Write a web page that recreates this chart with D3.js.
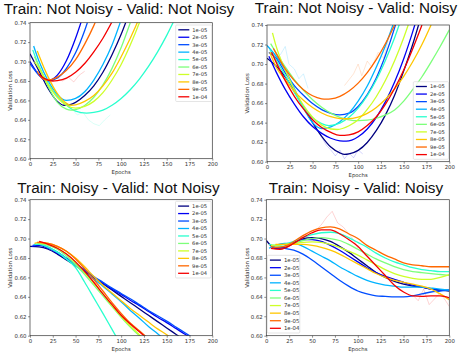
<!DOCTYPE html>
<html><head><meta charset="utf-8">
<script src="https://cdn.jsdelivr.net/npm/d3@7/dist/d3.min.js"></script>
<style>body{margin:0;background:#fff}svg{display:block}</style>
</head><body>
<svg id="c" width="474" height="356"></svg>
<script>
// ---------- data ----------
const lrLabels = ["1e-05","2e-05","3e-05","4e-05","5e-05","6e-05","7e-05","8e-05","9e-05","1e-04"];
const lrColors = ["#000080","#0000f3","#004dff","#00b3ff","#29ffce","#7dff7b","#ceff29","#ffc600","#ff6800","#f40000"];
const xTickValues = [0,25,50,75,100,125,150,175,200];
const yTickValues = [0.60,0.62,0.64,0.66,0.68,0.70,0.72,0.74];
const panelTitles = ["Train: Not Noisy - Valid: Not Noisy","Train: Not Noisy - Valid: Noisy","Train: Noisy - Valid: Not Noisy","Train: Noisy - Valid: Noisy"];

// Train: Not Noisy - Valid: Not Noisy  (fitted curves, [epoch, loss])
const curvesNNvNN = [
 [[0,0.708],[10,0.690],[20,0.672],[30,0.659],[37,0.655],[45,0.656],[50,0.658],[60,0.665],[70,0.675],[80,0.689],[90,0.707],[100,0.728],[110,0.753]],
 [[0,0.700],[10,0.686],[18,0.680],[25,0.682],[30,0.686],[40,0.701],[50,0.724],[60,0.752]],
 [[0,0.698],[10,0.686],[20,0.680],[30,0.683],[40,0.693],[50,0.709],[60,0.732],[70,0.761]],
 [[4,0.716],[10,0.700],[20,0.680],[30,0.666],[40,0.660],[50,0.662],[60,0.669],[70,0.681],[80,0.697],[90,0.717],[100,0.743]],
 [[3,0.712],[10,0.695],[20,0.677],[30,0.664],[40,0.655],[50,0.649],[62,0.647],[70,0.6477],[80,0.650],[90,0.655],[100,0.662],[110,0.671],[120,0.682],[130,0.695],[140,0.710],[150,0.727],[160,0.746]],
 [[5,0.705],[10,0.695],[20,0.674],[30,0.658],[40,0.651],[45,0.650],[50,0.6505],[60,0.6548],[70,0.6633],[80,0.676],[90,0.693],[100,0.7144],[110,0.740]],
 [[5,0.700],[10,0.693],[20,0.676],[30,0.663],[40,0.655],[50,0.652],[60,0.6538],[70,0.659],[80,0.668],[90,0.681],[100,0.697],[110,0.717],[120,0.740],[130,0.766]],
 [[8,0.711],[10,0.706],[20,0.684],[30,0.667],[40,0.657],[45,0.655],[50,0.6554],[60,0.659],[70,0.665],[80,0.675],[90,0.688],[100,0.705],[110,0.724],[120,0.745]],
 [[8,0.690],[12,0.684],[18,0.681],[25,0.682],[30,0.684],[40,0.691],[50,0.702],[60,0.718],[70,0.737],[80,0.760]],
 [[10,0.687],[15,0.683],[25,0.680],[30,0.6804],[40,0.683],[50,0.689],[60,0.698],[70,0.710],[80,0.724],[90,0.741]]
];
// Train: Not Noisy - Valid: Noisy
const curvesNNvN = [
 [[0,0.706],[10,0.698],[20,0.687],[30,0.672],[40,0.656],[50,0.640],[60,0.626],[70,0.615],[80,0.609],[85,0.6075],[90,0.608],[100,0.6116],[110,0.6197],[120,0.632],[130,0.648],[140,0.668],[150,0.693],[160,0.7206],[170,0.752]],
 [[2,0.708],[10,0.692],[20,0.674],[30,0.659],[40,0.646],[50,0.636],[60,0.629],[70,0.624],[80,0.6213],[87,0.621],[100,0.6255],[110,0.6335],[120,0.6455],[130,0.6615],[140,0.6815],[150,0.7055],[160,0.7335],[170,0.765]],
 [[2,0.712],[10,0.706],[20,0.691],[30,0.678],[40,0.668],[50,0.6595],[60,0.6534],[70,0.6496],[80,0.648],[90,0.6497],[100,0.6566],[110,0.6687],[120,0.686],[130,0.709],[140,0.737],[150,0.77]],
 [[0,0.719],[10,0.708],[20,0.694],[30,0.675],[40,0.655],[50,0.640],[60,0.634],[70,0.6357],[80,0.641],[90,0.6497],[100,0.662],[110,0.6775],[120,0.697],[130,0.719],[140,0.745]],
 [[3,0.715],[10,0.704],[20,0.688],[30,0.671],[40,0.656],[50,0.645],[60,0.639],[68,0.637],[80,0.6395],[90,0.6454],[100,0.6548],[110,0.6677],[120,0.684],[130,0.704],[140,0.727],[150,0.754]],
 [[4,0.721],[10,0.7115],[20,0.697],[30,0.684],[40,0.673],[50,0.6635],[60,0.6558],[70,0.6497],[80,0.6454],[90,0.6429],[100,0.642],[110,0.6425],[120,0.6445],[130,0.648],[140,0.653],[150,0.662],[160,0.674],[170,0.687],[180,0.702],[190,0.718],[200,0.735]],
 [[6,0.732],[10,0.7183],[20,0.694],[30,0.674],[40,0.6577],[50,0.6456],[60,0.6375],[70,0.6335],[77,0.633],[90,0.6368],[100,0.643],[110,0.6535],[120,0.6668],[130,0.6834],[140,0.7035],[150,0.727],[160,0.754]],
 [[3,0.712],[10,0.697],[20,0.684],[30,0.672],[40,0.663],[50,0.6555],[60,0.6499],[70,0.6461],[80,0.6442],[88,0.644],[100,0.6456],[110,0.6495],[120,0.6556],[130,0.664],[140,0.6746],[150,0.6874],[160,0.7026],[170,0.72],[180,0.74]],
 [[7,0.716],[10,0.711],[20,0.695],[30,0.683],[40,0.6737],[50,0.6675],[60,0.6644],[65,0.664],[70,0.6643],[80,0.667],[90,0.6724],[100,0.6805],[110,0.6913],[120,0.7048],[130,0.721],[140,0.740]],
 [[5,0.712],[10,0.702],[20,0.683],[30,0.667],[40,0.654],[50,0.643],[60,0.635],[70,0.630],[80,0.627],[85,0.627],[90,0.6274],[100,0.6305],[110,0.637],[120,0.646],[130,0.659],[140,0.675],[150,0.694],[160,0.716],[170,0.740]]
];
// Train: Noisy - Valid: Not Noisy
const curvesNvNN = [
 [[0,0.692],[10,0.6915],[20,0.689],[30,0.684],[40,0.678],[50,0.672],[60,0.666],[70,0.660],[80,0.6535],[90,0.647],[100,0.6405],[110,0.634],[120,0.6275],[130,0.621],[140,0.6145],[150,0.608],[160,0.6015],[170,0.595]],
 [[2,0.692],[10,0.693],[20,0.690],[30,0.685],[40,0.679],[50,0.673],[60,0.667],[70,0.660],[80,0.654],[90,0.648],[100,0.6425],[110,0.6365],[120,0.631],[130,0.625],[140,0.619],[150,0.6135],[160,0.6075],[170,0.6015],[180,0.596]],
 [[3,0.693],[10,0.694],[20,0.691],[30,0.686],[40,0.680],[50,0.674],[60,0.668],[70,0.661],[80,0.655],[90,0.649],[100,0.6435],[110,0.638],[120,0.632],[130,0.626],[140,0.6205],[150,0.615],[160,0.609],[170,0.603],[180,0.597]],
 [[5,0.694],[10,0.694],[20,0.691],[30,0.686],[40,0.679],[50,0.672],[60,0.665],[70,0.658],[80,0.651],[90,0.643],[100,0.635],[110,0.626],[120,0.618],[130,0.6095],[140,0.602],[150,0.594]],
 [[5,0.694],[10,0.694],[20,0.691],[30,0.686],[40,0.679],[50,0.670],[60,0.655],[70,0.639],[80,0.623],[90,0.6065],[100,0.590]],
 [[8,0.695],[20,0.693],[30,0.689],[40,0.682],[50,0.673],[60,0.663],[70,0.652],[80,0.641],[90,0.630],[100,0.619],[110,0.609],[120,0.600],[130,0.592]],
 [[8,0.696],[20,0.694],[30,0.690],[40,0.684],[50,0.675],[60,0.665],[70,0.654],[80,0.643],[90,0.631],[100,0.620],[110,0.610],[120,0.601],[130,0.592]],
 [[5,0.695],[10,0.696],[20,0.695],[30,0.692],[40,0.687],[50,0.680],[60,0.671],[70,0.661],[80,0.652],[90,0.644],[100,0.636],[110,0.628],[120,0.621],[130,0.614],[140,0.607],[150,0.601],[160,0.594]],
 [[8,0.696],[20,0.695],[30,0.692],[40,0.687],[50,0.679],[60,0.669],[70,0.658],[80,0.646],[90,0.634],[100,0.623],[110,0.613],[120,0.605],[130,0.597]],
 [[10,0.697],[20,0.694],[30,0.690],[40,0.684],[50,0.676],[60,0.666],[70,0.655],[80,0.643],[90,0.632],[100,0.621],[110,0.612],[120,0.604],[130,0.596]]
];
// Train: Noisy - Valid: Noisy
const curvesNvN = [
 [[0,0.698],[10,0.690],[20,0.692],[30,0.696],[40,0.700],[50,0.701],[60,0.700],[70,0.697],[80,0.692],[90,0.686],[100,0.679],[110,0.672],[120,0.665],[130,0.660],[140,0.656],[150,0.653],[160,0.651],[170,0.650],[180,0.648],[190,0.647],[200,0.646]],
 [[5,0.693],[10,0.690],[20,0.691],[30,0.695],[40,0.699],[50,0.699],[60,0.697],[70,0.693],[80,0.688],[90,0.682],[100,0.676],[110,0.670],[120,0.665],[130,0.661],[140,0.658],[150,0.655],[160,0.652],[170,0.650],[180,0.648],[190,0.647],[200,0.647]],
 [[5,0.692],[10,0.691],[20,0.690],[30,0.688],[40,0.684],[50,0.678],[60,0.671],[70,0.664],[80,0.657],[90,0.651],[100,0.646],[110,0.643],[120,0.641],[130,0.6405],[140,0.640],[150,0.640],[160,0.641],[170,0.643],[180,0.645],[190,0.646],[200,0.647]],
 [[3,0.690],[10,0.693],[20,0.695],[30,0.695],[40,0.692],[50,0.687],[60,0.682],[70,0.677],[80,0.671],[90,0.666],[100,0.661],[110,0.657],[120,0.654],[130,0.652],[140,0.651],[150,0.650],[160,0.650],[170,0.650],[180,0.649],[190,0.648],[200,0.647]],
 [[3,0.694],[10,0.693],[20,0.694],[30,0.697],[40,0.701],[50,0.704],[60,0.706],[70,0.7065],[80,0.705],[90,0.701],[100,0.696],[110,0.691],[120,0.685],[130,0.680],[140,0.676],[150,0.673],[160,0.670],[170,0.668],[180,0.667],[190,0.666],[200,0.666]],
 [[5,0.693],[20,0.692],[30,0.695],[40,0.698],[50,0.700],[60,0.701],[70,0.700],[80,0.698],[90,0.694],[100,0.689],[110,0.684],[120,0.679],[130,0.675],[140,0.671],[150,0.668],[160,0.666],[170,0.665],[180,0.664],[190,0.663],[200,0.662]],
 [[5,0.693],[20,0.694],[30,0.695],[40,0.696],[50,0.6965],[60,0.696],[70,0.694],[80,0.691],[90,0.687],[100,0.683],[110,0.678],[120,0.673],[130,0.668],[140,0.664],[150,0.661],[160,0.659],[170,0.658],[180,0.658],[190,0.660],[200,0.663]],
 [[10,0.694],[20,0.694],[30,0.694],[40,0.694],[50,0.693],[60,0.691],[70,0.688],[80,0.684],[90,0.679],[100,0.674],[110,0.669],[120,0.664],[130,0.660],[140,0.657],[150,0.655],[160,0.653],[170,0.651],[180,0.648],[190,0.643],[200,0.637]],
 [[5,0.692],[10,0.691],[20,0.692],[30,0.697],[40,0.703],[50,0.708],[60,0.711],[70,0.712],[80,0.710],[90,0.705],[100,0.700],[110,0.693],[120,0.688],[130,0.683],[140,0.679],[150,0.675],[160,0.673],[170,0.672],[180,0.671],[190,0.671],[200,0.671]],
 [[5,0.690],[15,0.689],[30,0.695],[40,0.701],[50,0.706],[60,0.709],[70,0.709],[80,0.705],[90,0.699],[100,0.692],[110,0.682],[120,0.672],[130,0.662],[140,0.652],[150,0.645],[160,0.641],[170,0.6405],[180,0.641],[190,0.641],[200,0.639]]
];

// faint raw (unsmoothed) traces visible behind the fits: [series index, points]
const rawNNvNN = [
 [4, [[45,0.652],[52,0.645],[58,0.648],[64,0.640],[70,0.636],[76,0.634],[82,0.640],[88,0.645]]],
 [9, [[30,0.683],[36,0.680],[42,0.684],[48,0.679],[54,0.686],[60,0.690]]]
];
const rawNNvN = [
 [1, [[55,0.632],[60,0.625],[65,0.617],[70,0.612],[75,0.606],[80,0.612],[85,0.603],[90,0.609],[95,0.604],[100,0.612],[105,0.608]]],
 [8, [[85,0.678],[90,0.684],[95,0.690],[100,0.700],[104,0.688],[110,0.703],[115,0.697],[122,0.712],[128,0.706],[134,0.728],[140,0.740]]],
 [3, [[10,0.705],[15,0.710],[20,0.718],[24,0.700],[30,0.695],[35,0.685],[40,0.690],[45,0.675]]]
];
const rawNvNN = [];
const rawNvN = [
 [9, [[40,0.700],[50,0.705],[60,0.714],[66,0.722],[72,0.728],[78,0.716],[84,0.712],[90,0.705],[96,0.698],[100,0.690]]],
 [9, [[160,0.642],[166,0.636],[172,0.648],[178,0.632],[184,0.638],[190,0.644],[196,0.636],[200,0.630]]]
];

// ---------- layout ----------
const panels = [
 {title: panelTitles[0], curves: curvesNNvNN, raw: rawNNvNN, l:30, r:212.3, t:22.7, b:158.7, tx:119, ty:13.5, lg:{x:175.7, y:25, w:36, h:76.5, fs:5.2}},
 {title: panelTitles[1], curves: curvesNNvN, raw: rawNNvN, l:267, r:449.3, t:25, b:161.7, tx:356, ty:12.5, lg:{x:413.3, y:81.7, w:35.2, h:77.6, fs:5.2}},
 {title: panelTitles[2], curves: curvesNvNN, raw: rawNvNN, l:30, r:212.3, t:199.7, b:335.7, tx:118.5, ty:193, lg:{x:175.5, y:201.3, w:35.5, h:76.7, fs:5.2}},
 {title: panelTitles[3], curves: curvesNvN, raw: rawNvN, l:266.3, r:449.3, t:199.7, b:335.7, tx:356, ty:193, lg:{x:267.3, y:255.3, w:32.5, h:77.7, fs:5.4}}
];

const svg = d3.select("#c");
const tickFont = "DejaVu Sans";

panels.forEach((p, pi) => {
  const x = d3.scaleLinear().domain([0, 200]).range([p.l, p.r]);
  const y = d3.scaleLinear().domain([0.60, 0.74]).range([p.b, p.t]);
  const g = svg.append("g");

  g.append("clipPath").attr("id", "clip" + pi)
    .append("rect").attr("x", p.l).attr("y", p.t).attr("width", p.r - p.l).attr("height", p.b - p.t);

  const line = d3.line().x(d => x(d[0])).y(d => y(d[1])).curve(d3.curveMonotoneX);
  const rawLine = d3.line().x(d => x(d[0])).y(d => y(d[1]));
  const plot = g.append("g").attr("clip-path", "url(#clip" + pi + ")");

  p.raw.forEach(([si, pts]) => {
    plot.append("path").attr("d", rawLine(pts)).attr("fill", "none")
      .attr("stroke", lrColors[si]).attr("stroke-opacity", 0.22).attr("stroke-width", 0.8);
  });
  p.curves.forEach((pts, si) => {
    plot.append("path").attr("d", line(pts)).attr("fill", "none")
      .attr("stroke", lrColors[si]).attr("stroke-width", 1.3).attr("stroke-linejoin", "round");
  });

  // axes
  const ax = g.append("g").attr("transform", `translate(0,${p.b})`)
    .call(d3.axisBottom(x).tickValues(xTickValues).tickSize(2).tickPadding(1.5).tickFormat(d3.format("d")));
  const ay = g.append("g").attr("transform", `translate(${p.l},0)`)
    .call(d3.axisLeft(y).tickValues(yTickValues).tickSize(2).tickPadding(1.5).tickFormat(d3.format(".2f")));
  [ax, ay].forEach(a => {
    a.select(".domain").remove();
    a.selectAll("line").attr("stroke", "#444").attr("stroke-width", 0.6);
    a.selectAll("text").attr("font-family", tickFont).attr("font-size", 5.4).attr("fill", "#333");
  });

  g.append("rect").attr("x", p.l).attr("y", p.t).attr("width", p.r - p.l).attr("height", p.b - p.t)
    .attr("fill", "none").attr("stroke", "#333").attr("stroke-width", 0.7);

  g.append("text").attr("x", (p.l + p.r) / 2).attr("y", p.b + 14.8)
    .attr("text-anchor", "middle").attr("font-family", tickFont).attr("font-size", 5.4).attr("fill", "#333").text("Epochs");
  g.append("text").attr("transform", `translate(${p.l - 17.8},${(p.t + p.b) / 2}) rotate(-90)`)
    .attr("text-anchor", "middle").attr("font-family", tickFont).attr("font-size", 5.4).attr("fill", "#333").text("Validation Loss");

  // title
  svg.append("text").attr("x", p.tx).attr("y", p.ty).attr("text-anchor", "middle")
    .attr("font-family", "Liberation Sans, Arial, sans-serif").attr("font-size", 15.3).attr("fill", "#111").text(p.title);

  // legend
  const lg = g.append("g");
  lg.append("rect").attr("x", p.lg.x).attr("y", p.lg.y).attr("width", p.lg.w).attr("height", p.lg.h)
    .attr("rx", 1).attr("fill", "#fff").attr("fill-opacity", 0.85).attr("stroke", "#d4d4d4").attr("stroke-width", 0.6);
  const step = (p.lg.h - 9.5) / 9;
  lrLabels.forEach((lab, i) => {
    const yy = p.lg.y + 4.8 + i * step;
    lg.append("line").attr("x1", p.lg.x + 2.6).attr("x2", p.lg.x + 13.6).attr("y1", yy).attr("y2", yy)
      .attr("stroke", lrColors[i]).attr("stroke-width", 1.3);
    lg.append("text").attr("x", p.lg.x + 16.6).attr("y", yy).attr("dy", "0.35em")
      .attr("font-family", tickFont).attr("font-size", p.lg.fs).attr("fill", "#333").text(lab);
  });
});
</script>
</body></html>
